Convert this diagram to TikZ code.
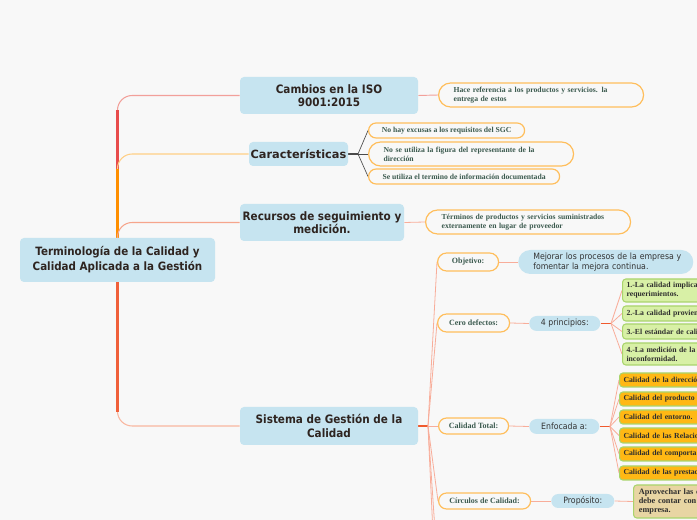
\documentclass[tikz,border=0pt]{standalone}
\usepackage{fontspec}
\setmainfont{Liberation Serif}
\newfontfamily\hd[FakeStretch=0.9]{DejaVu Sans}
\newfontfamily\hdw{DejaVu Sans}
\usetikzlibrary{backgrounds}
\definecolor{bg}{HTML}{F8F8F8}
\definecolor{bluefill}{HTML}{C6E4F0}
\definecolor{bigtext}{HTML}{2E2420}
\definecolor{smtext}{HTML}{3B5A4E}
\definecolor{pillorange}{HTML}{FFBE5C}
\definecolor{greenfill}{HTML}{D8F0A6}
\definecolor{greenline}{HTML}{A9D46C}
\definecolor{amber}{HTML}{FFB814}
\definecolor{tanfill}{HTML}{E8D5A3}
\definecolor{salmon}{HTML}{F8AD9A}
\definecolor{fanred}{HTML}{F05A2E}
\definecolor{trunkA}{HTML}{E84C4C}
\definecolor{trunkAl}{HTML}{F2A09A}
\definecolor{trunkB}{HTML}{FF8F00}
\definecolor{trunkBl}{HTML}{FFCF85}
\definecolor{trunkC}{HTML}{F06040}
\definecolor{trunkCl}{HTML}{F6A58C}
\definecolor{trunkD}{HTML}{F0603A}
\definecolor{trunkDl}{HTML}{F9B7A0}
\definecolor{darkgrey}{HTML}{4A4A4A}
\tikzset{
  topic/.style={fill=bluefill, rounded corners=3pt, text=bigtext, align=center, inner sep=0pt,
    font=\hd\bfseries\fontsize{8.7}{10}\selectfont},
  note/.style={draw=pillorange, line width=0.9pt, fill=bg, text=smtext, align=left, anchor=west,
    inner ysep=0pt, font=\bfseries\fontsize{5.75}{6.8}\selectfont},
  lab/.style={draw=pillorange, line width=0.9pt, fill=bg, text=smtext, align=center, anchor=west,
    inner sep=0pt, font=\bfseries\fontsize{6}{6.8}\selectfont},
  bpill/.style={fill=bluefill, text=black!80, anchor=west, inner sep=0pt,
    font=\hd\fontsize{6.5}{7}\selectfont},
  gbox/.style={fill=greenfill, draw=greenline, line width=0.8pt, rounded corners=2.5pt, text=black!82,
    anchor=west, align=left, inner xsep=3pt, inner ysep=0pt, text width=110pt,
    font=\bfseries\fontsize{5.8}{6.8}\selectfont},
  obox/.style={gbox, fill=amber},
  tbox/.style={gbox, fill=tanfill, inner xsep=4pt, font=\bfseries\fontsize{6.2}{6.75}\selectfont},
  sal/.style={draw=salmon, line width=0.6pt},
  stub/.style={draw=fanred, line width=1.4pt}
}
\begin{document}
\begin{tikzpicture}[x=0.75pt,y=-0.75pt]
\path[use as bounding box] (0,0) rectangle (697,520);
\clip (0,0) rectangle (697,520);
% main topics
\node[topic, minimum width=146.25pt, minimum height=33pt, font=\hd\bfseries\fontsize{8.6}{11.25}\selectfont] (root) at (117.5,260) {Terminología de la Calidad y\\Calidad Aplicada a la Gestión};
\node[topic, minimum width=133.5pt, minimum height=27.75pt] (cambios) at (329,95.5) {Cambios en la ISO\\9001:2015};
\node[topic, minimum width=74.25pt, minimum height=18pt, font=\hdw\bfseries\fontsize{8.5}{10}\selectfont] (caract) at (298.5,154) {Características};
\node[topic, minimum width=123pt, minimum height=27.75pt] (recursos) at (322,222.5) {Recursos de seguimiento y\\medición.};
\node[topic, minimum width=133.5pt, minimum height=28.5pt] (sistema) at (329,426) {Sistema de Gestión de la\\Calidad};
% notes
\node[note, inner xsep=11.25pt, text width=131.25pt, minimum height=18pt, rounded corners=9pt] (hace) at (438,95) {Hace referencia a los productos y servicios. la\\entrega de estos};
\node[note, align=center, inner xsep=0pt, minimum width=117pt, minimum height=11.25pt, rounded corners=5.6pt] (nohay) at (368,130.5) {No hay excusas a los requisitos del SGC};
\node[note, inner xsep=11.25pt, text width=131.25pt, minimum height=18pt, rounded corners=9pt] (nose) at (368,154) {No se utiliza la figura del representante de la\\dirección};
\node[note, align=center, inner xsep=0pt, minimum width=143.25pt, minimum height=11.25pt, rounded corners=5.6pt] (seutil) at (368,176.5) {Se utiliza el termino de información documentada};
\node[note, inner xsep=12pt, text width=129.75pt, minimum height=18pt, rounded corners=9pt] (terminos) at (425,222) {Términos de productos y servicios suministrados\\externamente en lugar de proveedor};
% sistema children
\node[lab, minimum width=45.75pt, minimum height=13.5pt, rounded corners=6.75pt] (objetivo) at (437,262) {Objetivo:};
\node[lab, minimum width=54pt, minimum height=13.5pt, rounded corners=6.75pt] (cero) at (437,323) {Cero defectos:};
\node[lab, minimum width=52.5pt, minimum height=12pt, rounded corners=6pt] (caltotal) at (438,426) {Calidad Total:};
\node[lab, minimum width=69pt, minimum height=12pt, rounded corners=6pt] (circulos) at (438,501) {Círculos de Calidad:};
% blue pills
\node[bpill, align=left, inner xsep=7.5pt, text width=116.25pt, minimum height=18pt, rounded corners=9pt] (mejorar) at (518,262) {\hspace*{3.75pt}Mejorar los procesos de la empresa y\\\hspace*{3.75pt}fomentar la mejora continua.};
\node[bpill, align=center, minimum width=53.25pt, minimum height=11.25pt, rounded corners=5.6pt] (principios) at (529,323.5) {4 principios:};
\node[bpill, align=center, minimum width=52.5pt, minimum height=11.25pt, rounded corners=5.6pt] (enfocada) at (529,426.5) {Enfocada a:};
\node[bpill, align=center, minimum width=47.25pt, minimum height=10.5pt, rounded corners=5.25pt] (proposito) at (551,501) {Propósito:};
% green boxes
\node[gbox, minimum height=17.25pt] (g1) at (622,290.5) {1.-La calidad implica\\requerimientos.};
\node[gbox, minimum height=11.25pt] (g2) at (622,313.5) {2.-La calidad provien};
\node[gbox, minimum height=11.25pt] (g3) at (622,331.5) {3.-El estándar de cali};
\node[gbox, minimum height=16.5pt] (g4) at (622,354) {4.-La medición de la\\inconformidad.};
% orange boxes
\node[obox, minimum height=10.5pt] (o1) at (619,380) {Calidad de la direcció};
\node[obox, minimum height=10.5pt] (o2) at (619,399) {Calidad del producto};
\node[obox, minimum height=10.5pt] (o3) at (619,417) {Calidad del entorno.};
\node[obox, minimum height=11.25pt] (o4) at (619,435.5) {Calidad de las Relacio};
\node[obox, minimum height=10.5pt] (o5) at (619,454) {Calidad del comporta};
\node[obox, minimum height=10.5pt] (o6) at (619,473) {Calidad de las prestac};
% tan box
\node[tbox, minimum height=24.75pt] (aprov) at (633,501.5) {Aprovechar las c\\debe contar con l\\empresa.};
% coordinates
\coordinate (tA) at (117.5,110);
\coordinate (tB) at (117.5,169);
\coordinate (tC) at (117.5,238);
\coordinate (tD) at (117.5,412);
\coordinate (fanS) at (428,426);
\coordinate (fanC) at (358,154);
\coordinate (fanP) at (611,323.5);
\coordinate (fanE) at (610,426.5);
\coordinate (offA) at (437,560);
\coordinate (offB) at (437,620);
\begin{pgfonlayer}{background}
\fill[bg] (0,0) rectangle (697,520);
% trunk
\draw[trunkAl, line width=0.8pt, rounded corners=11pt] (root.center) |- (cambios.west);
\draw[trunkA, line width=1.9pt] (root.center) -- (tA);
\draw[trunkBl, line width=0.8pt, rounded corners=11pt] (root.center) |- (caract.west);
\draw[trunkB, line width=1.9pt] (root.center) -- (tB);
\draw[trunkCl, line width=0.8pt, rounded corners=11pt] (root.center) |- (recursos.west);
\draw[trunkC, line width=1.9pt] (root.center) -- (tC);
\draw[trunkDl, line width=0.8pt, rounded corners=11pt] (root.center) |- (sistema.west);
\draw[trunkD, line width=1.9pt] (root.center) -- (tD);
% direct links
\draw[draw=trunkAl, line width=0.7pt] (cambios.east) -- (hace.west);
\draw[sal] (recursos.east) -- (terminos.west);
\draw[darkgrey, line width=0.9pt] (caract.east) -- (fanC);
\draw[darkgrey, line width=0.5pt] (fanC) -- (nohay.west);
\draw[darkgrey, line width=0.5pt] (fanC) -- (nose.west);
\draw[darkgrey, line width=0.5pt] (fanC) -- (seutil.west);
% sistema fan
\draw[stub] (sistema.east) -- (fanS);
\foreach \t in {objetivo,cero,caltotal,circulos,offA,offB}{
  \draw[sal] (fanS) -- (\t.west);
}
\draw[sal] (objetivo.east) -- (mejorar.west);
\draw[sal] (cero.east) -- (principios.west);
\draw[sal] (caltotal.east) -- (enfocada.west);
\draw[sal] (circulos.east) -- (proposito.west);
\draw[sal] (proposito.east) -- (aprov.west);
\draw[stub] (principios.east) -- (fanP);
\foreach \t in {g1,g2,g3,g4}{ \draw[sal] (fanP) -- (\t.west); }
\draw[stub] (enfocada.east) -- (fanE);
\foreach \t in {o1,o2,o3,o4,o5,o6}{ \draw[sal] (fanE) -- (\t.west); }
\end{pgfonlayer}
\end{tikzpicture}
\end{document}
